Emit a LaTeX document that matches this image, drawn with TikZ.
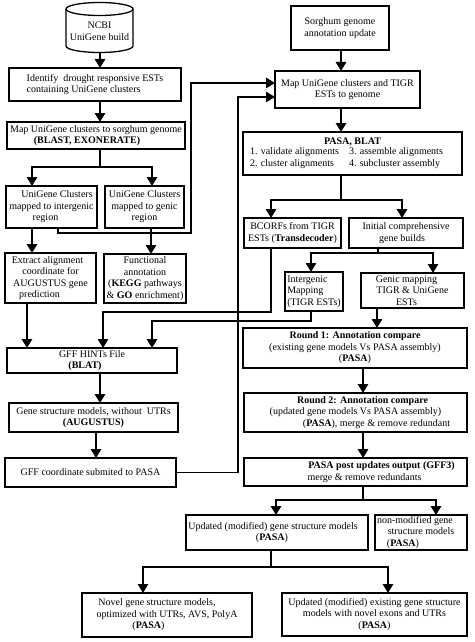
\documentclass[tikz,border=0pt]{standalone}
\usepackage{fontspec}
\setmainfont{Liberation Serif}
\usetikzlibrary{arrows.meta}
\tikzset{
  boxline/.style={draw=black, line width=1.3pt},
  box/.style={boxline, rectangle, inner sep=0.5pt, outer sep=0pt, align=center, font=\fontsize{10}{11.5}\selectfont},
  conn/.style={draw=black, line width=1.3pt},
  arr/.style={conn, -{Triangle[width=10.5pt,length=9pt]}},
  plain/.style={inner sep=0pt, outer sep=0pt, align=center, font=\fontsize{10}{11.5}\selectfont},
}
\newcommand{\flowbox}[7][]{\node[box,#1, minimum width={(#4)-(#3)}, minimum height={(#6)-(#5)}] (#2) at ({((#3)+(#4))/2},{((#5)+(#6))/2}) {#7};}
\begin{document}
\begin{tikzpicture}[x=1pt,y=-1pt]
\useasboundingbox (0,0) rectangle (474,642);
\fill[white] (0,0) rectangle (474,642);
% cylinder
\draw[boxline] (66,9) -- (66,46) arc[start angle=180, end angle=360, x radius=33.5pt, y radius=6.5pt] -- (133,9);
\draw[boxline] (99.5,9) ellipse[x radius=33.5pt, y radius=6.5pt];
\node[plain, minimum width=67, minimum height=44] (ncbi) at (99.5,31) {NCBI\\UniGene build};
% left column
\flowbox[align=left]{identify}{9}{181}{68}{101}{Identify\ \ drought responsive ESTs\\containing UniGene clusters}
\flowbox{mapug}{7}{185}{122}{149}{Map UniGene clusters to sorghum genome\\\textbf{(BLAST, EXONERATE)}\hspace*{18pt}}
\flowbox{inter}{6}{97}{186}{228}{\hspace*{11pt}UniGene Clusters\\mapped to intergenic\\region\hspace*{12pt}}
\flowbox{genic}{105}{184}{186}{228}{UniGene Clusters\\mapped to genic\\region}
\flowbox{extract}{5}{96}{253}{303}{Extract alignment\hspace*{6pt}\\coordinate for\hspace*{6pt}\\AUGUSTUS gene\hspace*{4pt}\\prediction\hspace*{22pt}}
\flowbox{func}{104}{186}{254}{303}{Functional\\annotation\\(\textbf{KEGG} pathways\\\& \textbf{GO} enrichment)}
\flowbox{hints}{7}{177}{348}{373}{GFF HINTs File\\\textbf{(BLAT)}\hspace*{14pt}}
\flowbox{gsm}{9}{178}{403}{432}{Gene structure models, without\ \ UTRs\\\textbf{(AUGUSTUS)}}
\flowbox{gffc}{5}{176}{458}{487}{GFF coordinate submited to PASA}
% right column
\flowbox{sorghum}{291}{389}{6}{50}{Sorghum genome\\annotation update}
\flowbox{maptigr}{275}{420}{71}{108}{Map UniGene clusters and TIGR\\ESTs to genome}
\flowbox{pasablat}{243}{462}{132}{175}{\textbf{PASA, BLAT}\\\begin{tabular}{@{}l@{\hspace{10pt}}l@{}}1. validate alignments & 3. assemble alignments\\2. cluster alignments & 4. subcluster assembly\end{tabular}\hspace*{12pt}}
\flowbox{bcorf}{244}{341}{218}{248}{BCORFs from TIGR\\ESTs (\textbf{Transdecoder})}
\flowbox{initial}{349}{463}{218}{248}{Initial comprehensive\\gene builds\hspace*{8pt}}
\flowbox[align=left]{intmap}{285}{343}{272}{311}{Intergenic\\Mapping\\(TIGR ESTs)}
\flowbox{genmap}{361}{464}{273}{308}{Genic mapping\hspace*{12pt}\\TIGR \& UniGene\hspace*{12pt}\\ESTs\hspace*{12pt}}
\flowbox{round1}{243}{467}{328}{368}{\textbf{Round 1: Annotation compare}\\(existing gene models Vs PASA assembly)\\(\textbf{PASA})}
\flowbox{round2}{244}{467}{393}{432}{\hspace*{14pt}\textbf{Round 2: Annotation compare}\\(updated gene models Vs PASA assembly)\\\hspace*{42pt}(\textbf{PASA}), merge \& remove redundant}
\flowbox{post}{244}{467}{458}{486}{\hspace*{52pt}\textbf{PASA post updates output (GFF3)}\\\hspace*{18pt}merge \& remove redundants}
\flowbox{updated}{186}{368}{515}{550}{Updated (modified) gene structure models\hspace*{8pt}\\(\textbf{PASA})\hspace*{10pt}}
\flowbox{nonmod}{375}{467}{515}{550}{non-modified gene\hspace*{12pt}\\structure models\\(\textbf{PASA})\hspace*{36pt}}
\flowbox{novel}{82}{252}{593}{637}{Novel gene structure models,\hspace*{20pt}\\optimized with UTRs, AVS, PolyA\hspace*{17pt}\\(\textbf{PASA})\hspace*{37pt}}
\flowbox{updexist}{282}{467}{593}{636}{Updated (modified) existing gene structure\\models with novel exons and UTRs\\(\textbf{PASA})}
% connectors left
\coordinate (cx100) at (100,0);
\draw[arr] (ncbi.south -| cx100) -- (cx100 |- identify.north);
\draw[arr] (cx100 |- identify.south) -- (cx100 |- mapug.north);
\coordinate (s1) at (100,167);
\coordinate (s1a) at (32,167);
\coordinate (s1b) at (152,167);
\draw[conn] (cx100 |- mapug.south) -- (s1);
\draw[arr] (s1) -| (s1a |- inter.north);
\draw[arr] (s1) -| (s1b |- genic.north);
\draw[arr] (s1a |- inter.south) -- (s1a |- extract.north);
\coordinate (cg) at (151,0);
\draw[arr] (cg |- genic.south) -- (cg |- func.north);
\coordinate (l1) at (58,233);
\coordinate (l2) at (191,233);
\coordinate (l3) at (191,83);
\draw[arr] (l1 |- inter.south) -- (l1) -- (l2) -- (l3) -- (l3 -| maptigr.west);
\coordinate (e1) at (27,0);
\draw[arr] (e1 |- extract.south) -- (e1 |- hints.north);
\coordinate (b1) at (271,312);
\coordinate (b2) at (103,312);
\draw[arr] (b1 |- bcorf.south) -- (b1) -- (b2) -- (b2 |- hints.north);
\coordinate (i1) at (311,321);
\coordinate (i2) at (152,321);
\draw[arr] (i1 |- intmap.south) -- (i1) -- (i2) -- (i2 |- hints.north);
\draw[arr] (cx100 |- hints.south) -- (cx100 |- gsm.north);
\coordinate (cx96) at (96,0);
\draw[arr] (cx96 |- gsm.south) -- (cx96 |- gffc.north);
\coordinate (g1) at (238,0);
\coordinate (g2) at (238,97);
\draw[arr] (gffc.east) -- (g1 |- gffc.east) -- (g2) -- (g2 -| maptigr.west);
% connectors right
\coordinate (r1) at (341,0);
\draw[arr] (r1 |- sorghum.south) -- (r1 |- maptigr.north);
\draw[arr] (r1 |- maptigr.south) -- (r1 |- pasablat.north);
\coordinate (s2) at (341,200);
\coordinate (s2a) at (271,200);
\coordinate (s2b) at (402,200);
\draw[conn] (r1 |- pasablat.south) -- (s2);
\draw[arr] (s2) -| (s2a |- bcorf.north);
\draw[arr] (s2) -| (s2b |- initial.north);
\coordinate (s3) at (378,253);
\coordinate (s3a) at (311,253);
\coordinate (s3b) at (433,253);
\draw[conn] (s3 |- initial.south) -- (s3);
\draw[arr] (s3) -| (s3a |- intmap.north);
\draw[arr] (s3) -| (s3b |- genmap.north);
\coordinate (cx377) at (377,0);
\draw[arr] (cx377 |- genmap.south) -- (cx377 |- round1.north);
\coordinate (cx363) at (363,0);
\draw[arr] (cx363 |- round1.south) -- (cx363 |- round2.north);
\draw[arr] (cx363 |- round2.south) -- (cx363 |- post.north);
\coordinate (s4) at (363,500);
\coordinate (s4a) at (276,500);
\coordinate (s4b) at (436,500);
\draw[conn] (cx363 |- post.south) -- (s4);
\draw[arr] (s4) -| (s4a |- updated.north);
\draw[arr] (s4) -| (s4b |- nonmod.north);
\coordinate (s5) at (271,567);
\coordinate (s5a) at (143,567);
\coordinate (s5b) at (388,567);
\draw[conn] (s5 |- updated.south) -- (s5);
\draw[arr] (s5) -| (s5a |- novel.north);
\draw[arr] (s5) -| (s5b |- updexist.north);
\end{tikzpicture}
\end{document}
